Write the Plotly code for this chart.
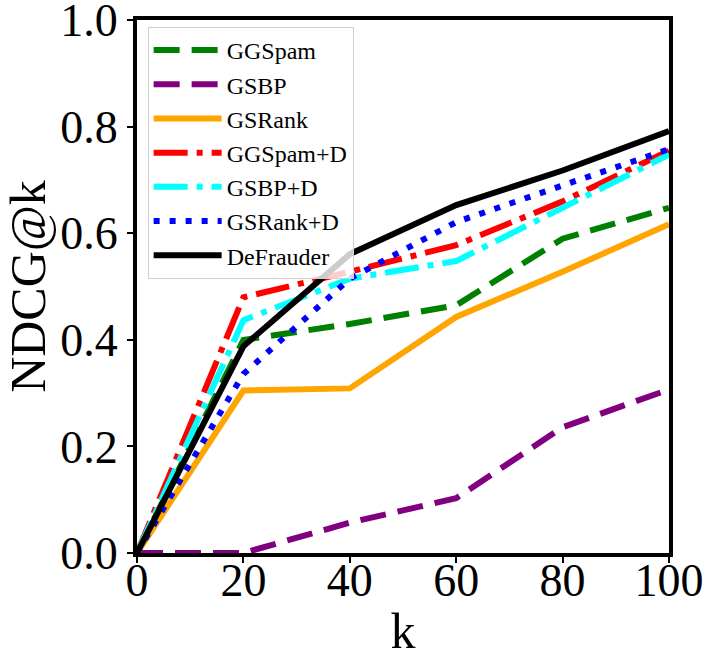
import plotly.graph_objects as go

k = [0, 20, 40, 60, 80, 100]
ggspam = [0.0, 0.40, 0.43, 0.465, 0.59, 0.648]
gsbp = [0.0, 0.0, 0.057, 0.103, 0.236, 0.307]
gsrank = [0.0, 0.305, 0.309, 0.443, 0.528, 0.617]
ggspam_d = [0.0, 0.48, 0.528, 0.578, 0.66, 0.755]
gsbp_d = [0.0, 0.437, 0.515, 0.548, 0.648, 0.748]
gsrank_d = [0.0, 0.336, 0.515, 0.621, 0.69, 0.758]
defrauder = [0.0, 0.388, 0.561, 0.653, 0.718, 0.792]

x_ticks = [0, 20, 40, 60, 80, 100]
y_ticks = [0, 0.2, 0.4, 0.6, 0.8, 1.0]
y_ticktext = ["0.0", "0.2", "0.4", "0.6", "0.8", "1.0"]

series = [
    ("GGSpam", ggspam, "green", "26px,12px"),
    ("GSBP", gsbp, "purple", "26px,12px"),
    ("GSRank", gsrank, "orange", "solid"),
    ("GGSpam+D", ggspam_d, "red", "34px,9px,6px,9px"),
    ("GSBP+D", gsbp_d, "cyan", "34px,9px,6px,9px"),
    ("GSRank+D", gsrank_d, "blue", "6px,10px"),
    ("DeFrauder", defrauder, "black", "solid"),
]

fig = go.Figure()
for name, ys, color, dash in series:
    fig.add_trace(go.Scatter(
        x=k, y=ys, mode="lines", name=name,
        line=dict(color=color, width=6, dash=dash),
    ))

font_family = "Liberation Serif"
fig.update_layout(
    width=714, height=659,
    margin=dict(l=137, r=45, t=20, b=106),
    paper_bgcolor="white", plot_bgcolor="white",
    font=dict(family=font_family, color="black"),
    showlegend=True,
    legend=dict(
        x=0.02, y=0.987, xanchor="left", yanchor="top",
        font=dict(size=24, family=font_family, color="black"),
        bgcolor="rgba(255,255,255,0.8)",
        bordercolor="#d0d0d0", borderwidth=1,
        tracegroupgap=0, itemwidth=68,
    ),
    xaxis=dict(
        range=[0, 100], tickvals=x_ticks,
        showgrid=False, zeroline=False, automargin=False,
        showline=True, linecolor="black", linewidth=4, mirror=True,
        ticks="outside", ticklen=6, tickwidth=2, tickcolor="black",
        tickfont=dict(size=46, family=font_family),
        ticklabelstandoff=-22, ticklabeloverflow="allow",
        title=dict(text="k", font=dict(size=50, family=font_family), standoff=10),
    ),
    yaxis=dict(
        range=[0, 1.0005], tickvals=y_ticks, ticktext=y_ticktext,
        showgrid=False, zeroline=False, automargin=False,
        showline=True, linecolor="black", linewidth=4, mirror=True,
        ticks="outside", ticklen=6, tickwidth=2, tickcolor="black",
        tickfont=dict(size=46, family=font_family),
        ticklabeloverflow="allow",
        title=dict(text="NDCG@k", font=dict(size=50, family=font_family), standoff=8),
    ),
)
fig.write_html("out.html", config={"displayModeBar": False},
               post_script="document.body.style.margin='0';")
